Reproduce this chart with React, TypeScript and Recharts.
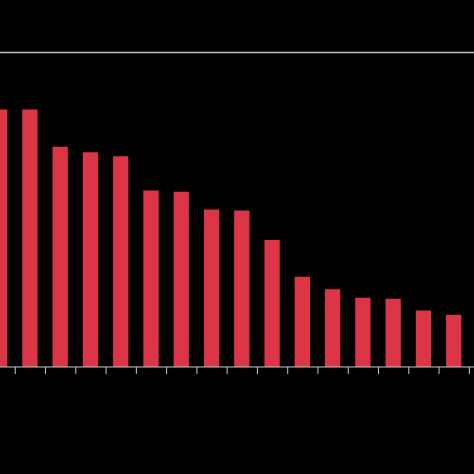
import React from "react";
import { BarChart, Bar, XAxis, YAxis, ReferenceLine } from "recharts";

const positions = [0, 1, 2, 3, 4, 5, 6, 7, 8, 9, 10, 11, 12, 13, 14, 15];
const values = [81.9, 81.9, 70.0, 68.3, 67.0, 56.1, 55.7, 50.1, 49.8, 40.4, 28.7, 24.7, 22.0, 21.7, 18.0, 16.6];
const tickValues = [-0.5, 0.5, 1.5, 2.5, 3.5, 4.5, 5.5, 6.5, 7.5, 8.5, 9.5, 10.5, 11.5, 12.5, 13.5, 14.5, 15.5, 16.5];
const topLine = 100;

const data = positions.map((p, i) => ({ pos: p, value: values[i] }));

export default function App() {
  return (
    <div
      style={{
        position: "fixed",
        left: 0,
        top: 0,
        width: 474,
        height: 474,
        background: "#000",
        overflow: "hidden",
      }}
    >
      <div style={{ position: "absolute", left: -14.77, top: 0 }}>
        <BarChart
          width={514.6}
          height={400}
          data={data}
          margin={{ top: 52.5, right: 0, left: 0, bottom: 0 }}
          barSize={15.3}
        >
          <YAxis hide domain={[0, 100]} type="number" />
          <XAxis
            dataKey="pos"
            type="number"
            domain={[-0.5, 16.5]}
            ticks={tickValues}
            interval={0}
            height={33}
            stroke="#c8c8c8"
            tickSize={7}
            tickFormatter={() => ""}
            allowDataOverflow
          />
          <ReferenceLine y={topLine} stroke="#c0c0c0" strokeWidth={1.5} />
          <Bar dataKey="value" fill="#dc3545" isAnimationActive={false} />
        </BarChart>
      </div>
    </div>
  );
}
